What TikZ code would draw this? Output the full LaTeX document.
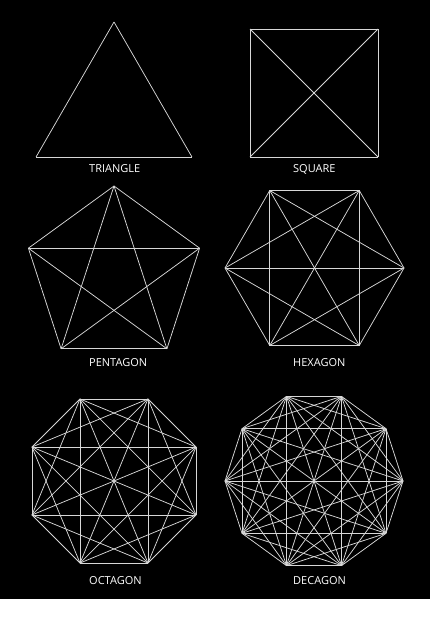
\documentclass[tikz,border=0pt]{standalone}
\usepackage{fontspec}
\setmainfont{Open Sans}
\usepackage{tikz}

\definecolor{linegray}{RGB}{215,215,215}

% regular polygon with all of its diagonals: name, n, cx, cy, R, start angle
\newcommand{\fullgon}[6]{%
  \foreach \k in {1,...,#2}
    \coordinate (#1-\k) at ({#3+#5*cos(#6+360*(\k-1)/#2)},{#4-#5*sin(#6+360*(\k-1)/#2)});
  \foreach \i in {1,...,#2}
    \foreach \j in {\i,...,#2}
      {\ifnum\i<\j \draw[edge] (#1-\i) -- (#1-\j);\fi}
}

\begin{document}
\begin{tikzpicture}[x=1pt,y=-1pt,
    edge/.style={draw=linegray,line width=0.75pt},
    shapename/.style={text=white,font=\fontsize{11}{13}\selectfont,inner sep=0pt,anchor=base west}]
  \useasboundingbox (0,0) rectangle (430,620);
  \fill[black] (0,0) rectangle (430,599);
  \fill[white] (0,599) rectangle (430,620);

  \fullgon{tri}{3}{114}{112}{90}{90}
  \fullgon{sq}{4}{314}{93}{90.5}{45}
  \fullgon{pent}{5}{114}{276}{90}{90}
  \fullgon{hex}{6}{314.5}{268}{89.5}{0}
  \fullgon{oct}{8}{114}{481}{88.8}{22.5}
  \fullgon{dec}{10}{314}{481}{89}{0}

  \node[shapename] (tri-name) at (89,173) {TRIANGLE};
  \node[shapename] (sq-name) at (293,173) {SQUARE};
  \node[shapename] (pent-name) at (89,366) {PENTAGON};
  \node[shapename] (hex-name) at (293,366) {HEXAGON};
  \node[shapename] (oct-name) at (89,584) {OCTAGON};
  \node[shapename] (dec-name) at (293,584) {DECAGON};
\end{tikzpicture}
\end{document}
